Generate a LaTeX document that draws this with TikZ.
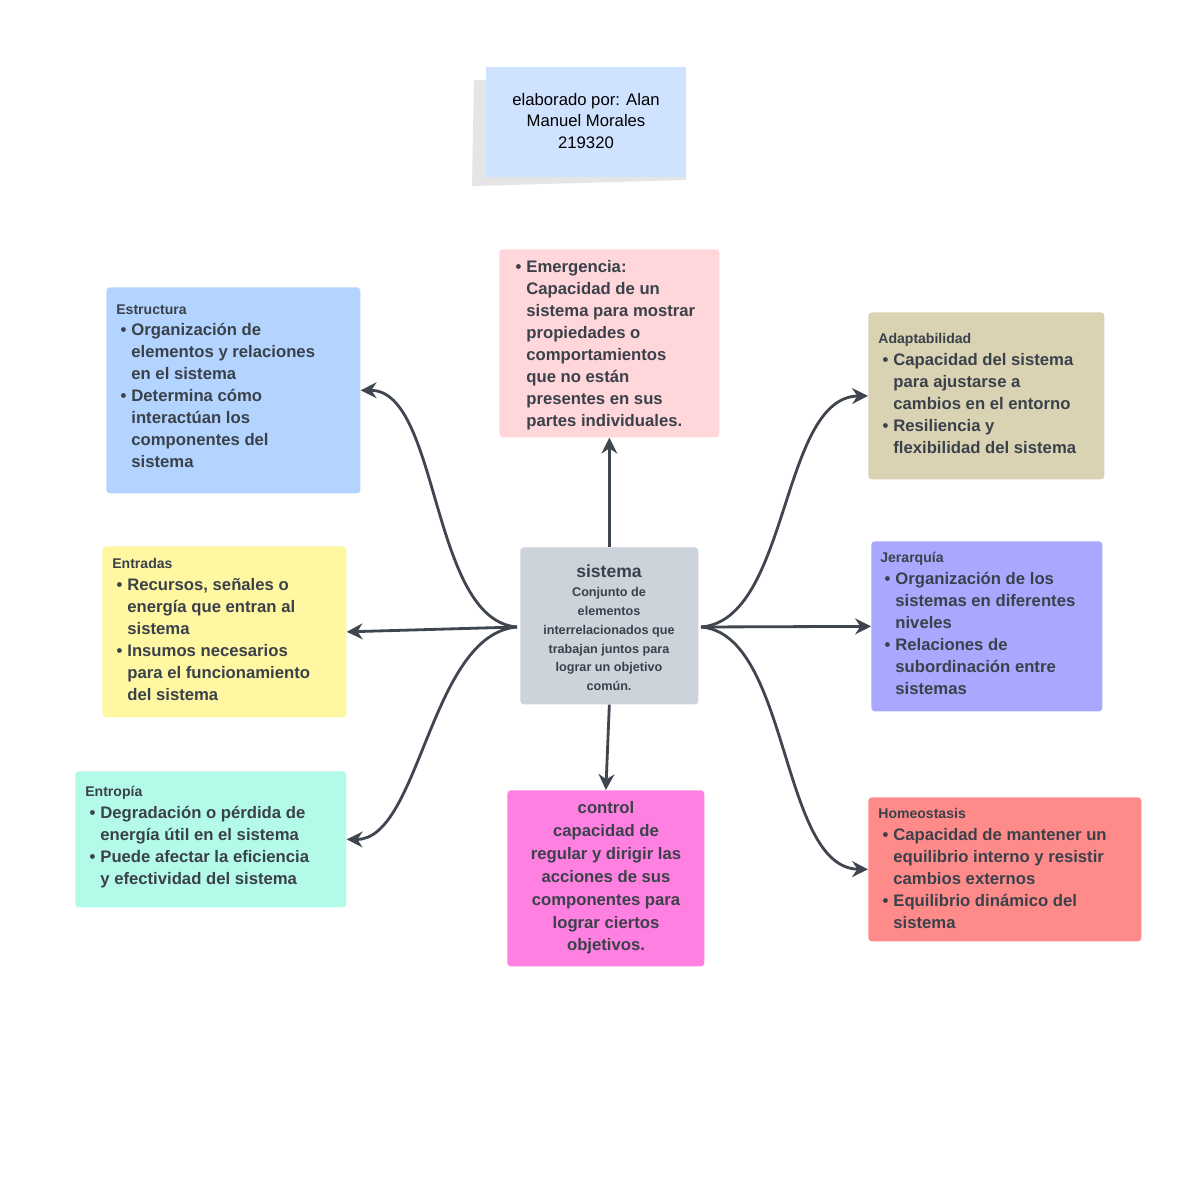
\documentclass[tikz,border=0pt]{standalone}
\usepackage{fontspec}
\setmainfont{Liberation Sans}
\usetikzlibrary{arrows.meta}
\definecolor{tx}{HTML}{3A414A}
\definecolor{ln}{HTML}{3F4650}
\definecolor{c1}{HTML}{CFE2FF}
\definecolor{cem}{HTML}{FFD6D9}\definecolor{ces}{HTML}{B3D4FF}\definecolor{cad}{HTML}{D9D3B3}
\definecolor{csi}{HTML}{CDD3DB}\definecolor{cen}{HTML}{FFF7A1}\definecolor{cje}{HTML}{A8A8FF}
\definecolor{cet}{HTML}{B3FAE9}\definecolor{cco}{HTML}{FF80E0}\definecolor{cho}{HTML}{FF8A8A}
\newcommand{\bu}{\hspace*{0.25em}\textbullet\hspace{0.3em}}
\newcommand{\ind}{\hspace*{0.25em}\phantom{\textbullet}\hspace{0.3em}}
\tikzset{
 box/.style={draw=none,rounded corners=2pt,anchor=north west,inner sep=0pt},
 txt/.style={anchor=north west,align=left,text=tx,font=\bfseries\fontsize{9.5}{12.5}\selectfont,inner sep=0pt},
 con/.style={draw=ln,line width=1.6pt,-{Stealth[length=9pt,width=9pt]}}
}
\begin{document}
\begin{tikzpicture}[x=0.02cm,y=-0.02cm]
\useasboundingbox (0,0) rectangle (1200,1200);
\fill[white] (0,0) rectangle (1200,1200);
% sticky
\fill[black!10] (474,80) -- (686,80) -- (686,180) -- (472,186) -- cycle;
\node[box,fill=c1,rounded corners=0pt,minimum width=200*0.02cm,minimum height=110*0.02cm] (note) at (486,67) {};
\node[align=center,font=\fontsize{9.5}{12.5}\selectfont,text=black] (notet) at (586,121) {elaborado por: Alan\\Manuel Morales\\219320};
\node[box,fill=cem,minimum width=220*0.02cm,minimum height=188*0.02cm] (em) at (499,249) {};
\node[box,fill=ces,minimum width=254*0.02cm,minimum height=206*0.02cm] (es) at (106,287) {};
\node[box,fill=cad,minimum width=236*0.02cm,minimum height=167*0.02cm] (ad) at (868,312) {};
\node[box,fill=csi,minimum width=178*0.02cm,minimum height=157*0.02cm] (si) at (520,547) {};
\node[box,fill=cen,minimum width=244*0.02cm,minimum height=171*0.02cm] (en) at (102,546) {};
\node[box,fill=cje,minimum width=231*0.02cm,minimum height=170*0.02cm] (je) at (871,541) {};
\node[box,fill=cet,minimum width=271*0.02cm,minimum height=136*0.02cm] (et) at (75,771) {};
\node[box,fill=cco,minimum width=197*0.02cm,minimum height=176*0.02cm] (co) at (507,790) {};
\node[box,fill=cho,minimum width=273*0.02cm,minimum height=144*0.02cm] (ho) at (868,797) {};
% texts
\node[txt] (emt) at (511,260) {\bu Emergencia:\\\ind Capacidad de un\\\ind sistema para mostrar\\\ind propiedades o\\\ind comportamientos\\\ind que no están\\\ind presentes en sus\\\ind partes individuales.};
\node[txt] (est) at (116,304) {{\fontsize{8}{12}\selectfont Estructura}\\\bu Organización de\\\ind elementos y relaciones\\\ind en el sistema\\\bu Determina cómo\\\ind interactúan los\\\ind componentes del\\\ind sistema};
\node[txt] (adt) at (878,333) {{\fontsize{8}{12}\selectfont Adaptabilidad}\\\bu Capacidad del sistema\\\ind para ajustarse a\\\ind cambios en el entorno\\\bu Resiliencia y\\\ind flexibilidad del sistema};
\node[txt] (ent) at (112,558) {{\fontsize{8}{12}\selectfont Entradas}\\\bu Recursos, señales o\\\ind energía que entran al\\\ind sistema\\\bu Insumos necesarios\\\ind para el funcionamiento\\\ind del sistema};
\node[txt] (jet) at (880,552) {{\fontsize{8}{12}\selectfont Jerarquía}\\\bu Organización de los\\\ind sistemas en diferentes\\\ind niveles\\\bu Relaciones de\\\ind subordinación entre\\\ind sistemas};
\node[txt] (ett) at (85,786) {{\fontsize{8}{12}\selectfont Entropía}\\\bu Degradación o pérdida de\\\ind energía útil en el sistema\\\bu Puede afectar la eficiencia\\\ind y efectividad del sistema};
\node[txt] (hot) at (878,808) {{\fontsize{8}{12}\selectfont Homeostasis}\\\bu Capacidad de mantener un\\\ind equilibrio interno y resistir\\\ind cambios externos\\\bu Equilibrio dinámico del\\\ind sistema};
\node[align=center,text=tx,font=\bfseries\fontsize{9.5}{13}\selectfont,inner sep=0pt] (cot) at (606,878) {control\\capacidad de\\regular y dirigir las\\acciones de sus\\componentes para\\lograr ciertos\\objetivos.};
\node[align=center,text=tx,font=\bfseries\fontsize{7.2}{10.7}\selectfont,inner sep=0pt] (sit) at (609,628) {{\fontsize{10}{12}\selectfont sistema}\\Conjunto de\\elementos\\interrelacionados que\\trabajan juntos para\\lograr un objetivo\\común.};
% connectors
\coordinate (L) at (517,627); \coordinate (R) at (701,627);
\draw[con] (si.north) -- (em.south);
\draw[con] (si.south) -- (co.north);
\draw[con] (L) -- (en.east);
\draw[con] (R) -- (je.west);
\draw[con] (L) .. controls (430,620) and (440,390) .. (es.east);
\draw[con] (L) .. controls (430,634) and (420,840) .. (et.east);
\draw[con] (R) .. controls (790,620) and (780,397) .. (ad.west);
\draw[con] (R) .. controls (790,634) and (780,868) .. (ho.west);
\end{tikzpicture}
\end{document}
